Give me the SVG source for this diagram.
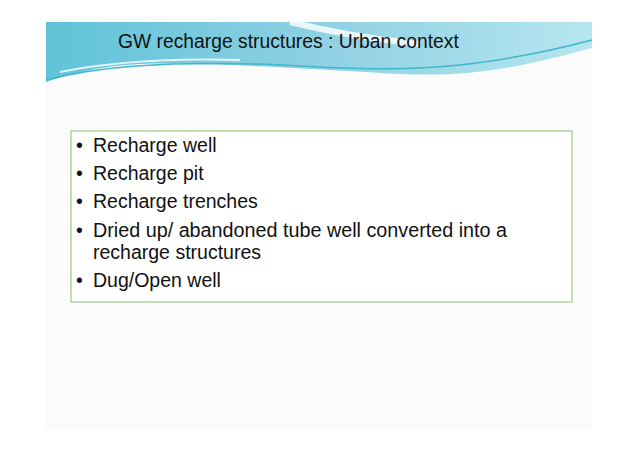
<svg xmlns="http://www.w3.org/2000/svg" width="638" height="451" viewBox="0 0 638 451">
<defs>
<linearGradient id="hg" x1="0" y1="0" x2="1" y2="0">
<stop offset="0" stop-color="#5fc3d8"/><stop offset="0.5" stop-color="#8fd0e3"/><stop offset="1" stop-color="#b5e6f0"/>
</linearGradient>
<style>
.t{font-family:"Liberation Sans","Open Sans",sans-serif;font-size:19.5px;fill:#111}
.h{font-family:"Liberation Sans","Open Sans",sans-serif;font-size:19.3px;fill:#111}
</style>
</defs>
<rect width="638" height="451" fill="#fff"/>
<rect x="46" y="20" width="546" height="410" fill="#fbfbfb"/>
<g id="header">
<path d="M46,22 L592,22 L592,48 C540,62 480,78 400,74 C300,68 200,62 140,64 C100,66 70,74 46,82 Z" fill="url(#hg)"/>
<path d="M290,22 C330,32 380,40 420,44" stroke="#fff" stroke-width="6" fill="none" opacity="0.8"/>
<path d="M46,80 C100,66 160,62 260,64 C360,68 440,80 592,40" stroke="#3fb7c9" stroke-width="1.5" fill="none"/>
<path d="M60,72 C110,62 170,58 240,60" stroke="#fff" stroke-width="2" fill="none" opacity="0.8"/>
<text class="h" x="118" y="48">GW recharge structures : Urban context</text>
</g>
<g id="box">
<rect x="71" y="131" width="501" height="171" fill="#fff" stroke="#8cc06a" stroke-width="1"/>
<text class="t" x="76" y="152">•</text><text class="t" x="93" y="152">Recharge well</text>
<text class="t" x="76" y="180">•</text><text class="t" x="93" y="180">Recharge pit</text>
<text class="t" x="76" y="208">•</text><text class="t" x="93" y="208">Recharge trenches</text>
<text class="t" x="76" y="237">•</text><text class="t" x="93" y="237" textLength="414" lengthAdjust="spacingAndGlyphs">Dried up/ abandoned tube well converted into a</text>
<text class="t" x="93" y="259">recharge structures</text>
<text class="t" x="76" y="287">•</text><text class="t" x="93" y="287">Dug/Open well</text>
</g>
</svg>
